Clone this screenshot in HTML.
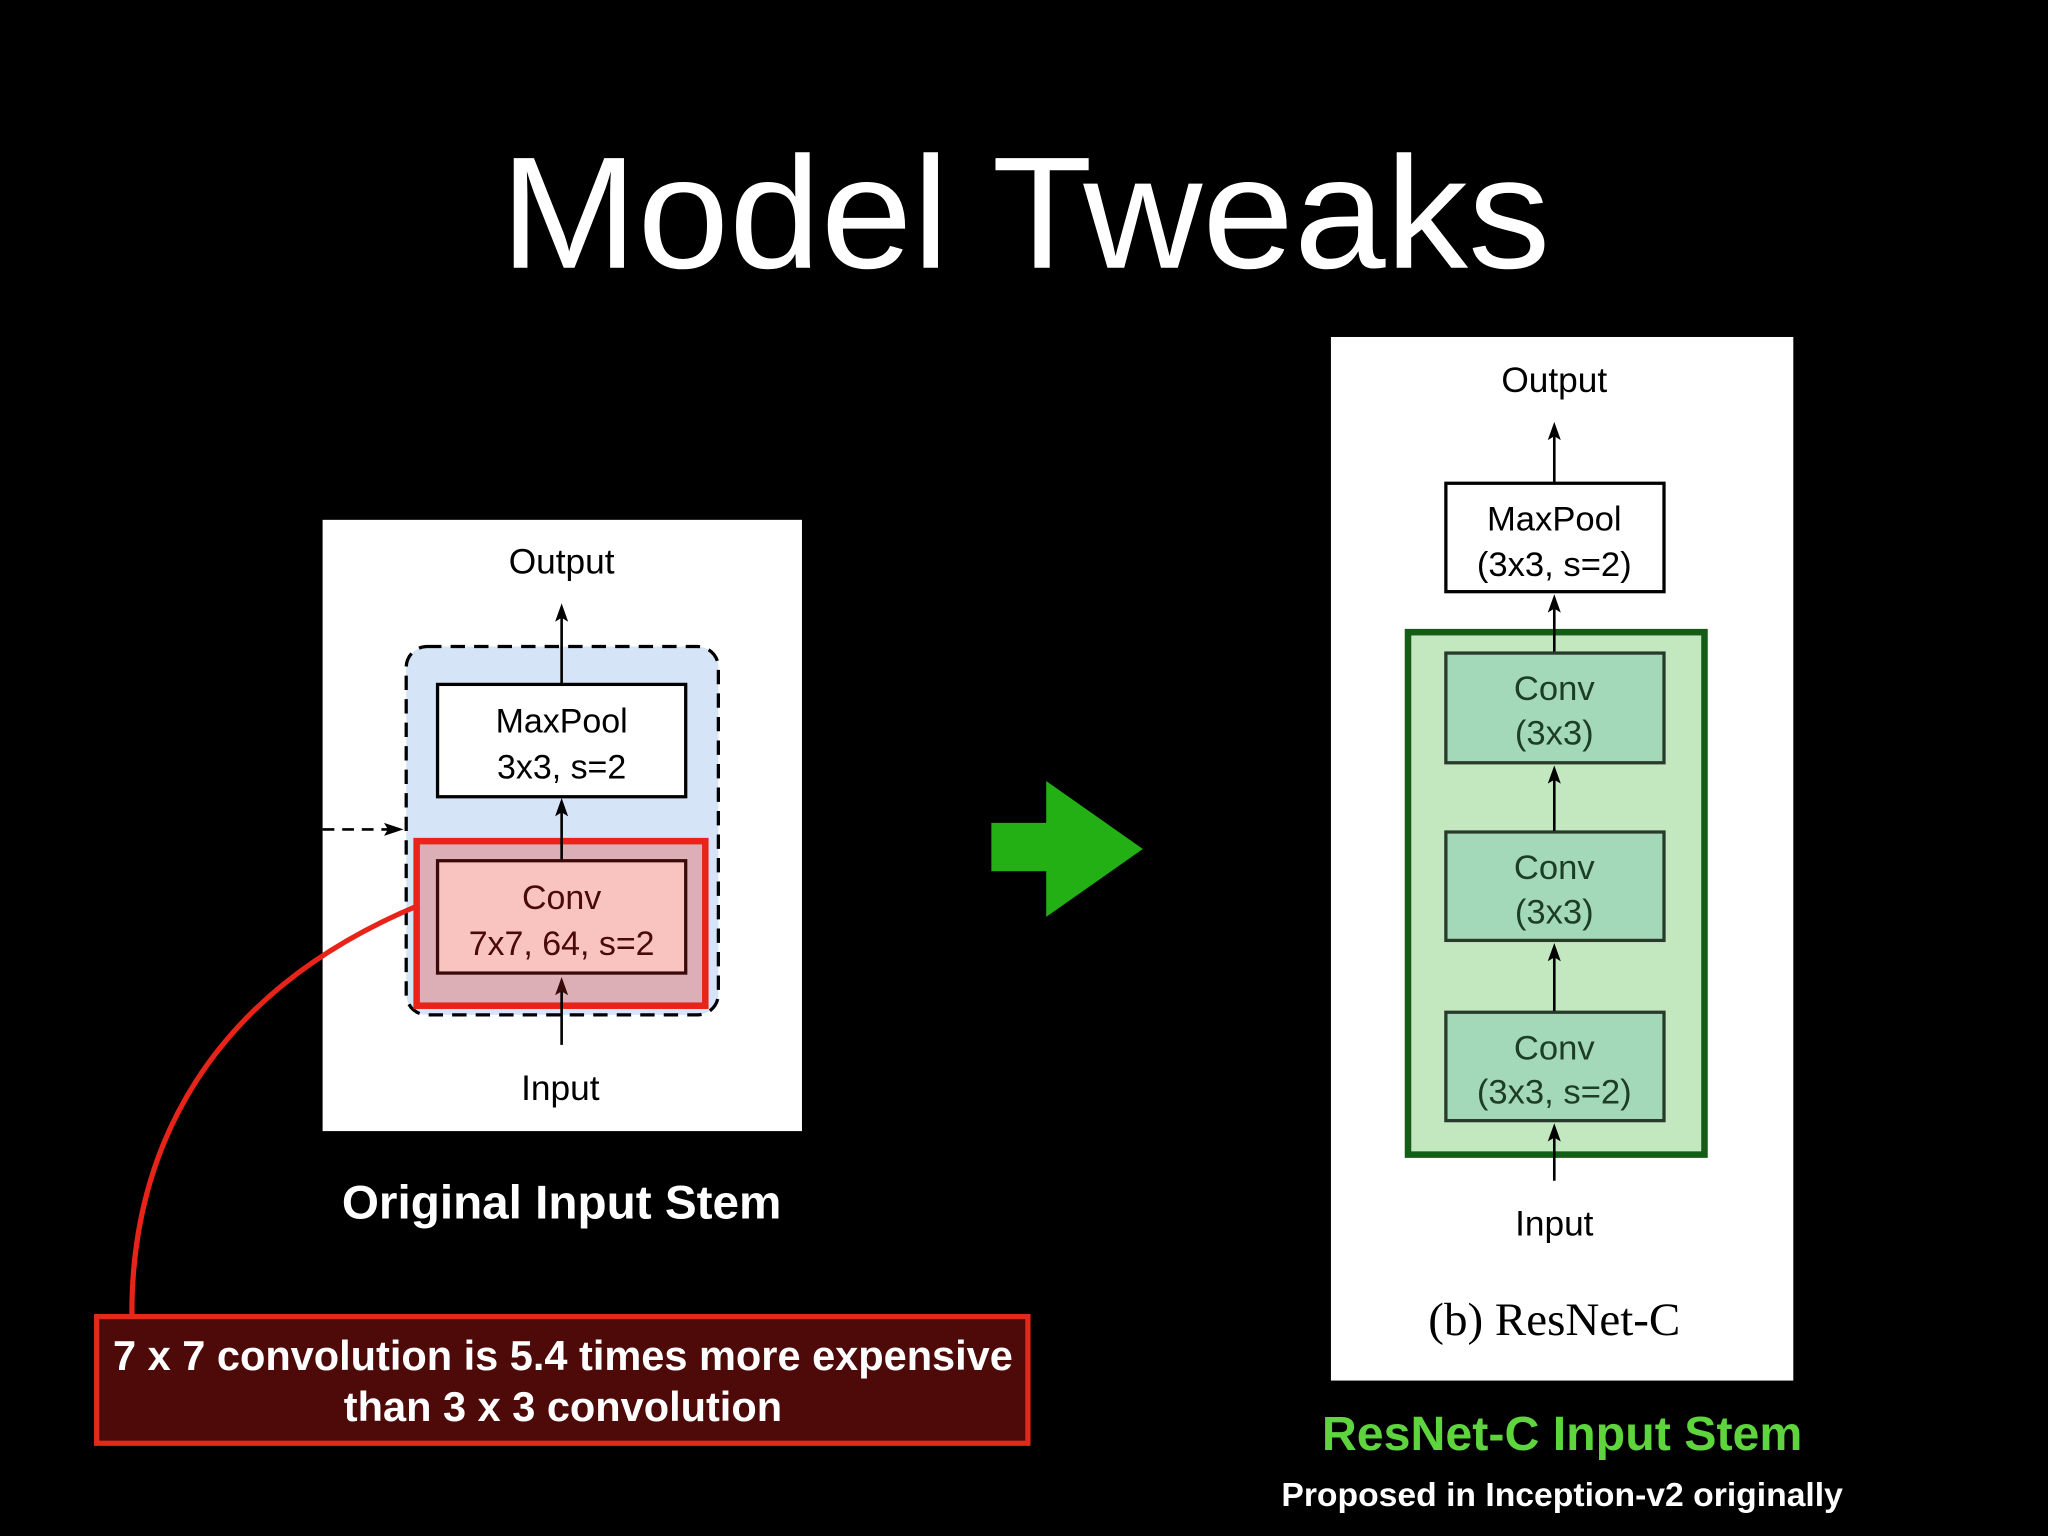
<!DOCTYPE html>
<html><head><meta charset="utf-8"><style>
html,body{margin:0;padding:0;background:#000;}
svg{display:block}
</style></head><body>
<svg width="2048" height="1536" viewBox="0 0 1568 1176" xmlns="http://www.w3.org/2000/svg" font-family="Liberation Sans, sans-serif">
<rect width="1568" height="1176" fill="#000"/>
<text x="785" y="205" font-size="122" fill="#fff" text-anchor="middle" textLength="804" lengthAdjust="spacingAndGlyphs">Model Tweaks</text>

<!-- left panel -->
<rect x="247" y="398" width="367" height="468" fill="#fff"/>
<text x="430" y="439" font-size="27" text-anchor="middle">Output</text>
<rect x="311" y="495" width="239" height="282" rx="16" fill="#d6e4f7" stroke="#000" stroke-width="2.5" stroke-dasharray="11,7"/>
<line x1="430" y1="523" x2="430" y2="470" stroke="#000" stroke-width="2"/>
<polygon points="425,476 430,462 435,476 430,473" fill="#000"/>
<rect x="335" y="524" width="190" height="86" fill="#fff" stroke="#000" stroke-width="2.5"/>
<text x="430" y="561" font-size="26" text-anchor="middle">MaxPool</text>
<text x="430" y="596" font-size="26" text-anchor="middle">3x3, s=2</text>
<rect x="319" y="644" width="221" height="126" fill="#dcafb6" stroke="#e8241a" stroke-width="5"/>
<line x1="430" y1="658" x2="430" y2="618" stroke="#000" stroke-width="2"/>
<polygon points="425,625 430,611 435,625 430,622" fill="#000"/>
<rect x="335" y="659" width="190" height="86" fill="#f9c4c0" stroke="#3a0a0a" stroke-width="2.5"/>
<text x="430" y="696" font-size="26" text-anchor="middle" fill="#4a0a0a">Conv</text>
<text x="430" y="731" font-size="26" text-anchor="middle" fill="#4a0a0a">7x7, 64, s=2</text>
<line x1="430" y1="800" x2="430" y2="755" stroke="#000" stroke-width="2"/>
<polygon points="425,762 430,748 435,762 430,759" fill="#3a0a0a"/>
<line x1="247" y1="635" x2="300" y2="635" stroke="#000" stroke-width="2" stroke-dasharray="9,6"/>
<polygon points="294,630 309,635 294,640 297,635" fill="#000"/>
<text x="429" y="842" font-size="27" text-anchor="middle">Input</text>
<text x="430" y="933" font-size="36.5" font-weight="bold" fill="#fff" text-anchor="middle">Original Input Stem</text>

<path d="M321 693 C 160 760, 100 880, 101 1008" fill="none" stroke="#e8241a" stroke-width="4"/>
<rect x="74" y="1008" width="713" height="97" fill="#4d0a08" stroke="#e02a1c" stroke-width="4"/>
<text x="431" y="1049" font-size="31.8" font-weight="bold" fill="#fff" text-anchor="middle">7 x 7 convolution is 5.4 times more expensive</text>
<text x="431" y="1088" font-size="31.8" font-weight="bold" fill="#fff" text-anchor="middle">than 3 x 3 convolution</text>

<!-- green arrow -->
<rect x="759" y="630" width="44" height="37" fill="#22b014"/>
<polygon points="801,598 875,650 801,702" fill="#22b014"/>

<!-- right panel -->
<rect x="1019" y="258" width="354" height="799" fill="#fff"/>
<text x="1190" y="300" font-size="27" text-anchor="middle">Output</text>
<line x1="1190" y1="369" x2="1190" y2="330" stroke="#000" stroke-width="2"/>
<polygon points="1185,337 1190,323 1195,337 1190,334" fill="#000"/>
<rect x="1107" y="370" width="167" height="83" fill="#fff" stroke="#000" stroke-width="2.5"/>
<text x="1190" y="406" font-size="26.5" text-anchor="middle">MaxPool</text>
<text x="1190" y="441" font-size="26.5" text-anchor="middle">(3x3, s=2)</text>
<rect x="1078" y="484" width="227" height="400" fill="#c3e8c0" stroke="#155d17" stroke-width="5"/>
<line x1="1190" y1="499" x2="1190" y2="462" stroke="#000" stroke-width="2"/>
<polygon points="1185,469 1190,455 1195,469 1190,466" fill="#000"/>
<g fill="#a3d9b8" stroke="#2a3a2a" stroke-width="2.5">
<rect x="1107" y="500" width="167" height="84"/>
<rect x="1107" y="637" width="167" height="83"/>
<rect x="1107" y="775" width="167" height="83"/>
</g>
<line x1="1190" y1="636" x2="1190" y2="593" stroke="#000" stroke-width="2"/>
<polygon points="1185,600 1190,586 1195,600 1190,597" fill="#000"/>
<line x1="1190" y1="774" x2="1190" y2="729" stroke="#000" stroke-width="2"/>
<polygon points="1185,736 1190,722 1195,736 1190,733" fill="#000"/>
<line x1="1190" y1="904" x2="1190" y2="867" stroke="#000" stroke-width="2"/>
<polygon points="1185,874 1190,860 1195,874 1190,871" fill="#000"/>
<g font-size="26.5" text-anchor="middle" fill="#1e3d26">
<text x="1190" y="536">Conv</text><text x="1190" y="570">(3x3)</text>
<text x="1190" y="673">Conv</text><text x="1190" y="707">(3x3)</text>
<text x="1190" y="811">Conv</text><text x="1190" y="845">(3x3, s=2)</text>
</g>
<text x="1190" y="946" font-size="27" text-anchor="middle">Input</text>
<text x="1190" y="1022" font-size="36" text-anchor="middle" font-family="Liberation Serif, serif">(b) ResNet-C</text>
<text x="1196" y="1110" font-size="37" font-weight="bold" fill="#5ed43d" text-anchor="middle">ResNet-C Input Stem</text>
<text x="1196" y="1153" font-size="25.8" font-weight="bold" fill="#fff" text-anchor="middle">Proposed in Inception-v2 originally</text>
</svg>
</body></html>
